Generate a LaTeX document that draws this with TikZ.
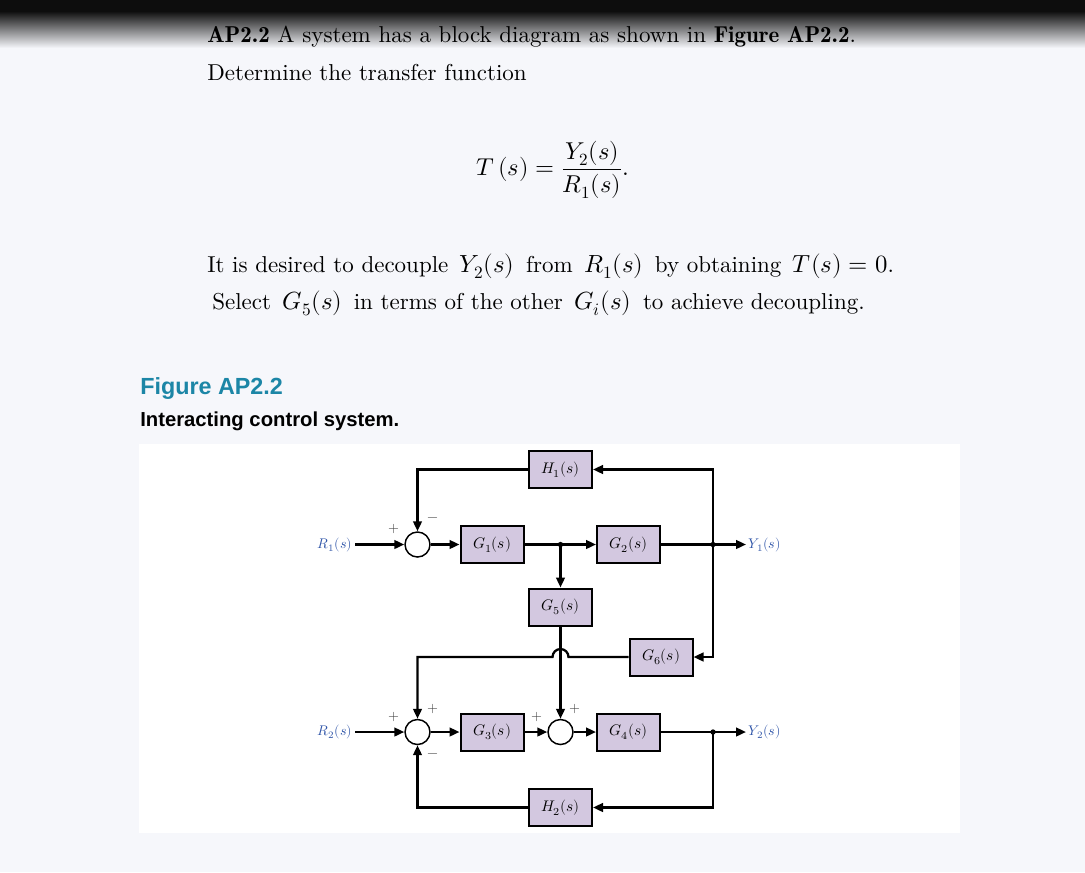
\documentclass[tikz,border=0pt]{standalone}
\usepackage{amsmath}
\usepackage{unicode-math}
\setmainfont{lmroman10-regular.otf}[BoldFont=lmromandemi10-regular.otf,ItalicFont=lmroman10-italic.otf]
\setmathfont{latinmodern-math.otf}
\newfontfamily\capfont{Liberation Sans}
\usetikzlibrary{arrows.meta}
\definecolor{pagebg}{RGB}{246,247,251}
\definecolor{blockfill}{RGB}{211,200,224}
\definecolor{figteal}{RGB}{28,134,166}
\definecolor{sigblue}{RGB}{46,84,168}
\newcommand\mth[1]{\hspace{0.5em}{\fontsize{18.6}{20}\selectfont$#1$}\hspace{0.5em}}

\begin{document}
\begin{tikzpicture}[x=0.75pt,y=0.75pt,yscale=-1,xscale=1,
  block/.style={draw,line width=1.5pt,fill=blockfill,minimum width=47.25pt,minimum height=27.75pt,inner sep=0pt,font=\fontsize{11.5}{12}\selectfont},
  sumnode/.style={draw,circle,line width=1.1pt,fill=white,minimum size=18.75pt,inner sep=0pt},
  sgn/.style={inner sep=0pt,text=black!75,font=\fontsize{10.5}{11}\selectfont},
  sig/.style={text=sigblue,inner sep=2pt,font=\fontsize{10.5}{12}\selectfont},
  wire/.style={line width=1.7pt},
  arr/.style={wire,-{Triangle[length=7.5pt,width=6.5pt]}},
  bodytext/.style={anchor=base west,inner sep=0pt,font=\fontsize{17.25}{20}\selectfont}]
\useasboundingbox (0,0) rectangle (1085,872);

%Page background
\fill[pagebg] (0,0) rectangle (1085,872);
\fill[black!95] (0,0) rectangle (1085,11);
\shade[top color=black!95,bottom color=pagebg] (0,11) rectangle (1085,48);
%Diagram panel
\fill[white] (139,444) rectangle (960,833);

% Text Node
\node[bodytext] (line1) at (207,42) {\textbf{AP2.2} A system has a block diagram as shown in \textbf{Figure AP2.2}.};
% Text Node
\node[bodytext] (line2) at (207,80) {Determine the transfer function};
% Text Node
\node[bodytext,anchor=center,font=\fontsize{18.3}{20}\selectfont] (eqn) at (553,170) {$T\,(s) = \dfrac{Y_2(s)}{R_1(s)}.$};
% Text Node
\node[bodytext] (line3) at (207,272) {It is desired to decouple\mth{Y_2(s)}from\mth{R_1(s)}by obtaining\mth{T(s)=0}\hspace{-0.5em}.};
% Text Node
\node[bodytext] (line4) at (212,309) {Select\mth{G_5(s)}in terms of the other\mth{G_i(s)}to achieve decoupling.};

% Caption
\node[anchor=base west,inner sep=0pt,text=figteal,font=\capfont\bfseries\fontsize{17.5}{20}\selectfont] (figlabel) at (140,394) {Figure AP2.2};
\node[anchor=base west,inner sep=0pt,font=\capfont\bfseries\fontsize{15.2}{17}\selectfont] (figtitle) at (140,426) {Interacting control system.};

%Blocks
\node[block] (H1) at (560.5,469.5) {$H_1(s)$};
\node[block] (G1) at (492,544.5) {$G_1(s)$};
\node[block] (G2) at (628.5,544.5) {$G_2(s)$};
\node[block] (G5) at (560.5,607) {$G_5(s)$};
\node[block] (G6) at (661,657) {$G_6(s)$};
\node[block] (G3) at (492,732) {$G_3(s)$};
\node[block] (G4) at (628.5,732) {$G_4(s)$};
\node[block] (H2) at (560.5,807.5) {$H_2(s)$};

%Summing junctions
\node[sumnode] (s1) at (417.5,544.5) {};
\node[sumnode] (s2) at (417.5,732) {};
\node[sumnode] (s3) at (560.5,732) {};

%Signals
\node[sig,anchor=east] (R1) at (355,544.5) {$R_1(s)$};
\node[sig,anchor=east] (R2) at (355,732) {$R_2(s)$};
\node[sig,anchor=west] (Y1) at (746,544.5) {$Y_1(s)$};
\node[sig,anchor=west] (Y2) at (746,732) {$Y_2(s)$};

%Branch points
\coordinate (j1) at (560.5,544.5);
\coordinate (jy1) at (713,544.5);
\coordinate (jy2) at (713,732);
\coordinate (hop) at (G5.south |- G6.west);

%Upper loop
\draw[arr] (R1) -- (s1);
\draw[arr] (s1) -- (G1);
\draw[arr] (G1) -- (G2);
\draw[arr] (j1) -- (G5);
\draw[arr] (G2) -- (Y1);
\draw[arr] (jy1) |- (H1);
\draw[arr] (H1) -| (s1);
%Cross couplings
\draw[arr] (jy1) |- (G6);
\draw[arr] (G5) -- (s3);
\draw[arr] (G6) -- ([xshift=6pt]hop) arc[start angle=0,end angle=-180,radius=8] -| (s2);
%Lower loop
\draw[arr] (R2) -- (s2);
\draw[arr] (s2) -- (G3);
\draw[arr] (G3) -- (s3);
\draw[arr] (s3) -- (G4);
\draw[arr] (G4) -- (Y2);
\draw[arr] (jy2) |- (H2);
\draw[arr] (H2) -| (s2);

\fill (j1) circle (2pt);
\fill (jy1) circle (2pt);
\fill (jy2) circle (2pt);

%Signs
\node[sgn] at (394,529) {$+$};
\node[sgn] at (433,520) {$-$};
\node[sgn] at (394,717) {$+$};
\node[sgn] at (433,709) {$+$};
\node[sgn] at (433,756) {$-$};
\node[sgn] at (537,717) {$+$};
\node[sgn] at (575,709) {$+$};

\end{tikzpicture}
\end{document}
